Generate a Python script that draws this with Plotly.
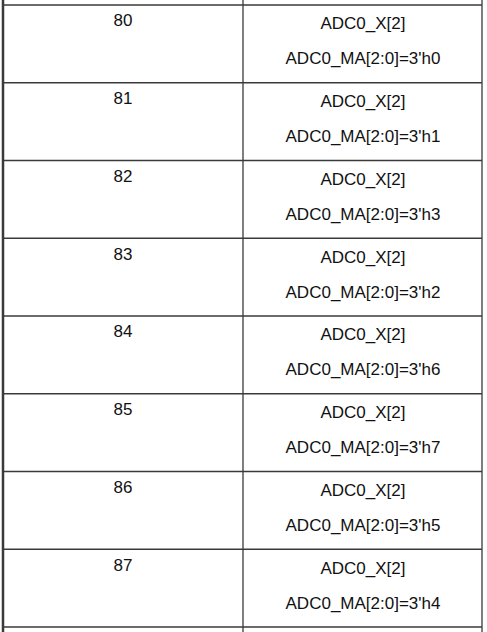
import plotly.graph_objects as go

# table contents
numbers = ["80", "81", "82", "83", "84", "85", "86", "87"]
signals = ["ADC0_X[2]"] * 8
ma_codes = ["3'h0", "3'h1", "3'h3", "3'h2", "3'h6", "3'h7", "3'h5", "3'h4"]

W, H = 487, 632
top, row_h = 5, 77.75
x_left, x_mid, x_right = 3, 243, 482
line_col = "#3a3a3a"
font = dict(family="Liberation Sans, Arial", size=17, color="#111")

tops = [top + i * row_h for i in range(len(numbers))]

fig = go.Figure()
fig.add_trace(go.Scatter(
    x=[123] * len(numbers), y=[t + 17 for t in tops], text=numbers,
    mode="text", textfont=font, hoverinfo="skip"))
fig.add_trace(go.Scatter(
    x=[363] * len(signals), y=[t + 20 for t in tops], text=signals,
    mode="text", textfont=font, hoverinfo="skip"))
fig.add_trace(go.Scatter(
    x=[363] * len(ma_codes), y=[t + 55 for t in tops],
    text=["ADC0_MA[2:0]=" + c for c in ma_codes],
    mode="text", textfont=font, hoverinfo="skip"))

shapes = []
for i in range(len(numbers) + 1):
    y = top + i * row_h
    shapes.append(dict(type="line", x0=x_left, x1=x_right, y0=y, y1=y,
                       line=dict(color=line_col, width=1.3)))
y_end = top + len(numbers) * row_h + 10
shapes.append(dict(type="line", x0=x_left, x1=x_left, y0=0, y1=y_end, line=dict(color=line_col, width=2.5)))
shapes.append(dict(type="line", x0=x_mid, x1=x_mid, y0=0, y1=y_end, line=dict(color=line_col, width=1.3)))
shapes.append(dict(type="line", x0=x_right, x1=x_right, y0=0, y1=y_end, line=dict(color=line_col, width=1.3)))

fig.update_layout(
    width=W, height=H, margin=dict(l=0, r=0, t=0, b=0),
    plot_bgcolor="white", paper_bgcolor="white", showlegend=False,
    shapes=shapes,
    xaxis=dict(range=[0, W], visible=False, fixedrange=True),
    yaxis=dict(range=[H, 0], visible=False, fixedrange=True),
)
fig.write_html("out.html", config={"displayModeBar": False},
               post_script="document.body.style.margin='0';document.body.style.overflow='hidden';")
